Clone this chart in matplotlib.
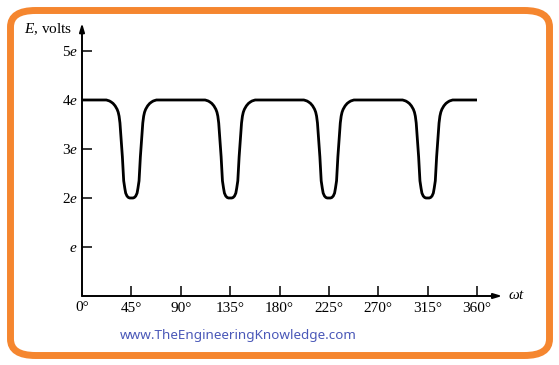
import matplotlib.pyplot as plt
from matplotlib.patches import FancyBboxPatch
import numpy as np

plt.rcParams['mathtext.fontset'] = 'custom'
plt.rcParams['mathtext.rm'] = 'Liberation Serif'
plt.rcParams['mathtext.it'] = 'Liberation Serif:italic'
plt.rcParams['font.family'] = 'Liberation Serif'

# Centres of the dips (degrees)
dip_centers = [45, 135, 225, 315]
# Shape of one dip: offset in degrees -> E in units of e
dip_offsets = [-22.8, -20.0, -18.5, -16.7, -14.8, -13.0, -12.0, -11.2, -10.4, -9.75,
               -8.2, -7.0, -6.0, -5.2, -4.0, -2.7, -1.5,
               1.5, 2.7, 4.0, 5.2, 6.0, 7.0, 8.2,
               9.75, 10.4, 11.2, 12.0, 13.0, 14.8, 16.7, 18.5, 20.0, 22.8]
dip_values = [4.0, 3.98, 3.96, 3.93, 3.88, 3.81, 3.75, 3.67, 3.53, 3.33,
              2.84, 2.35, 2.2, 2.1, 2.04, 2.01, 2.0,
              2.0, 2.01, 2.04, 2.1, 2.2, 2.35, 2.84,
              3.33, 3.53, 3.67, 3.75, 3.81, 3.88, 3.93, 3.96, 3.98, 4.0]

x_ticks = [0, 45, 90, 135, 180, 225, 270, 315, 360]
x_labels = ['0°', '45°', '90°', '135°', '180°', '225°', '270°', '315°', '360°']
y_ticks = [1, 2, 3, 4, 5]
y_labels = ['$e$', '$2e$', '$3e$', '$4e$', '$5e$']

angles = [0]
volts = [4.0]
for c in dip_centers:
    angles += [c + o for o in dip_offsets]
    volts += dip_values
angles.append(360)
volts.append(4.0)

W, H = 559, 365
fig = plt.figure(figsize=(W / 100, H / 100), dpi=100)
fig.patch.set_facecolor('white')

# orange rounded frame
frame = FancyBboxPatch((10.5 / W, 9.5 / H), 539 / W, 345 / H,
                       boxstyle='round,pad=0,rounding_size=0.045',
                       transform=fig.transFigure, facecolor='none',
                       edgecolor='#F5862F', linewidth=5, zorder=0)
fig.patches.append(frame)

ax = fig.add_axes([82 / W, (H - 296) / H, 395 / W, 246 / H])
ax.patch.set_alpha(0)
ax.plot(angles, volts, color='black', lw=2, solid_joinstyle='round')
ax.set_xlim(0, 360)
ax.set_ylim(0, 5.02)
for s in ax.spines.values():
    s.set_visible(False)

# axes with arrows
ax.annotate('', xy=(383, 0), xytext=(0, 0), annotation_clip=False,
            arrowprops=dict(arrowstyle='-|>,head_length=0.5,head_width=0.15',
                            lw=1.4, color='black', shrinkA=0, shrinkB=0))
ax.annotate('', xy=(0, 5.57), xytext=(0, 0), annotation_clip=False,
            arrowprops=dict(arrowstyle='-|>,head_length=0.5,head_width=0.15',
                            lw=1.4, color='black', shrinkA=0, shrinkB=0))

ax.set_xticks(x_ticks[1:])
ax.set_xticklabels(x_labels[1:], fontsize=11)
ax.set_yticks(y_ticks)
ax.set_yticklabels(y_labels, fontsize=11)
ax.tick_params(axis='x', direction='in', length=7, width=1.1, pad=4)
ax.tick_params(axis='y', direction='in', length=7, width=1.1, pad=3)
ax.text(0, -0.1, x_labels[0], fontsize=11, ha='center', va='top')

ax.annotate('$E$, volts', xy=(0, 5.57), xytext=(-10, -6),
            textcoords='offset pixels', fontsize=11, ha='right', va='center',
            annotation_clip=False)
ax.text(388, 0.02, r'$\omega t$', fontsize=11, ha='left', va='center')

fig.text(238 / W, 1 - 335 / H, 'www.TheEngineeringKnowledge.com',
         fontsize=9.7, color='#4A58B8', family='Noto Sans',
         ha='center', va='center')

fig.savefig('out.png', dpi=100)
